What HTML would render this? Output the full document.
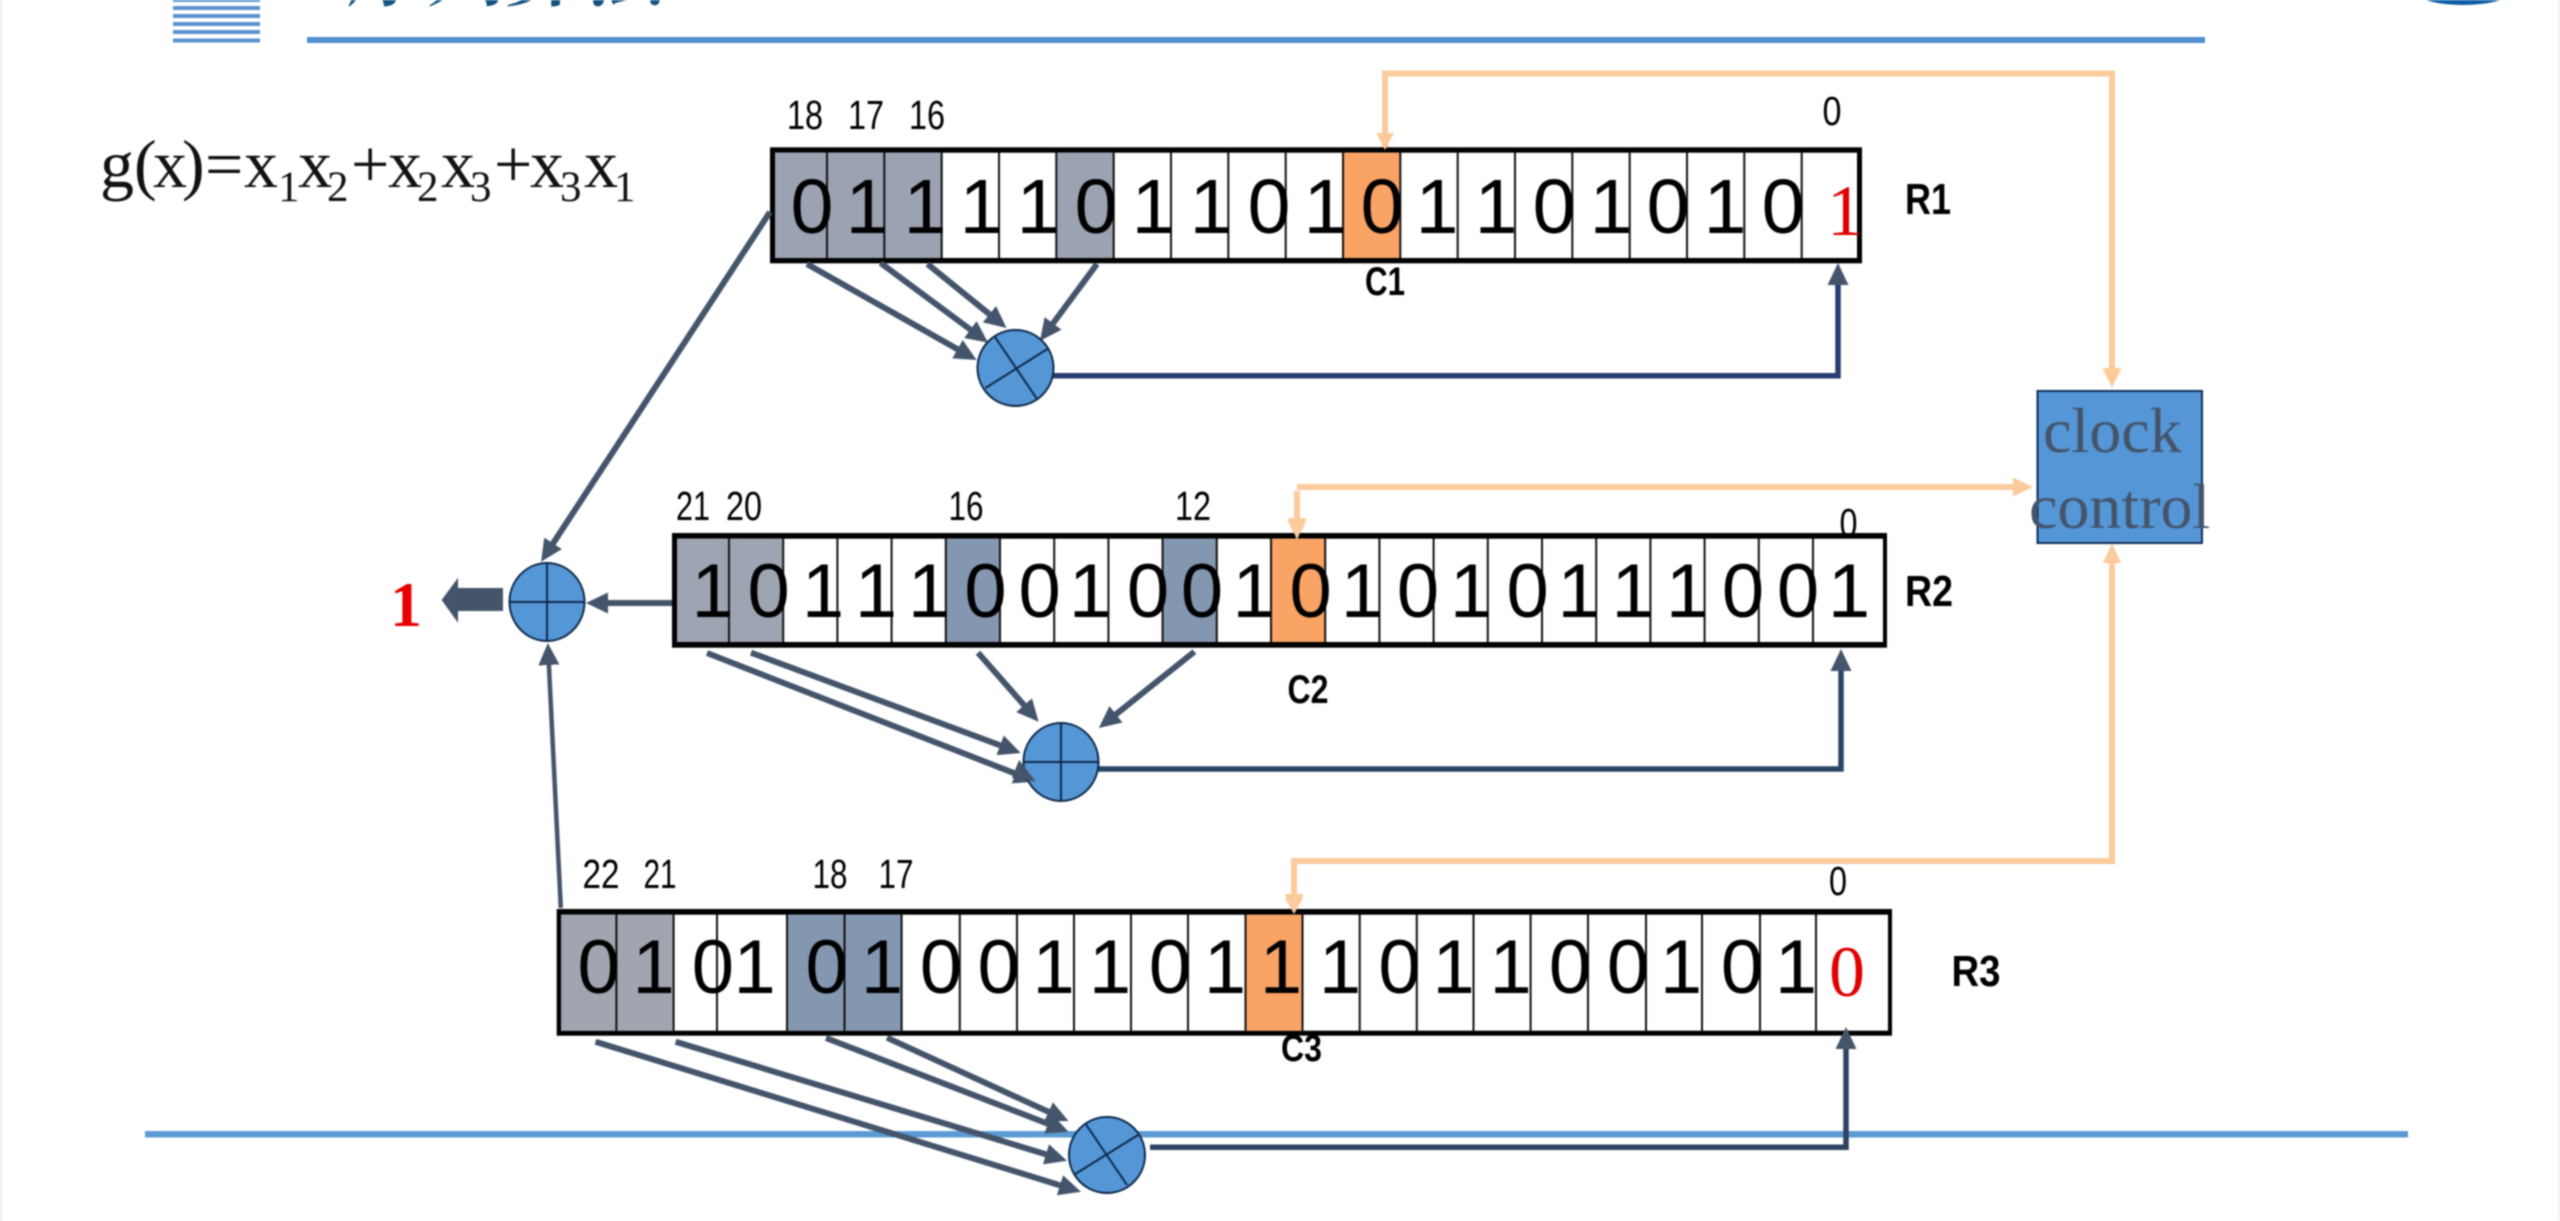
<!DOCTYPE html>
<html lang="en">
<head>
<meta charset="utf-8">
<title>Clock-controlled registers</title>
<style>
html,body{margin:0;padding:0;background:#fff;width:2560px;height:1221px;overflow:hidden}
svg{display:block;filter:blur(.7px)}
.bit{font-family:"Liberation Sans",sans-serif;fill:#000;text-anchor:middle}
.idx{font-family:"Liberation Sans",sans-serif;font-size:41px;fill:#000;text-anchor:middle}
.lab{font-family:"Liberation Sans",sans-serif;font-weight:700;fill:#000;text-anchor:middle}
.ser{font-family:"Liberation Serif",serif}
</style>
</head>
<body>
<svg width="2560" height="1221" viewBox="0 0 2560 1221" xmlns="http://www.w3.org/2000/svg">
<defs>
<marker id="h" markerUnits="userSpaceOnUse" markerWidth="26" markerHeight="24" refX="10" refY="11" orient="auto"><path d="M0,0.5 L22,11 L0,21.5 Z" fill="#44546A"/></marker>
<marker id="o" markerUnits="userSpaceOnUse" markerWidth="24" markerHeight="22" refX="8" refY="10" orient="auto"><path d="M0,0.5 L20,10 L0,19.5 Z" fill="#FBCB9C"/></marker>
</defs>
<rect x="0" y="0" width="2" height="1221" fill="#ececec"/>
<rect x="2558" y="0" width="2" height="1221" fill="#f0f0f0"/>

<!-- header -->
<g stroke="#5B93CF" stroke-width="4">
<path d="M173 0H260M173 8H260M173 16H260M173 24H260M173 32H260M173 40.5H260"/>
</g>
<rect x="307" y="37" width="1898" height="6" fill="#4E8FCF"/>
<text x="347" y="-1" font-family="'Noto Serif CJK SC',serif" font-weight="700" font-size="80" textLength="316" lengthAdjust="spacingAndGlyphs" fill="#14527F">序列算法</text>
<ellipse cx="2463" cy="-6" rx="44" ry="11" fill="#0E5CA8"/>

<!-- formula -->
<text class="ser" font-size="68" fill="#111" y="187" x="100 134 153 182 205">g(x)=</text>
<text class="ser" font-size="68" fill="#111" y="187" x="244">x</text>
<text class="ser" font-size="43" fill="#111" y="201" x="278">1</text>
<text class="ser" font-size="68" fill="#111" y="187" x="298">x</text>
<text class="ser" font-size="43" fill="#111" y="201" x="327">2</text>
<text class="ser" font-size="68" fill="#111" y="187" x="351">+</text>
<text class="ser" font-size="68" fill="#111" y="187" x="388">x</text>
<text class="ser" font-size="43" fill="#111" y="201" x="417">2</text>
<text class="ser" font-size="68" fill="#111" y="187" x="441">x</text>
<text class="ser" font-size="43" fill="#111" y="201" x="470">3</text>
<text class="ser" font-size="68" fill="#111" y="187" x="494">+</text>
<text class="ser" font-size="68" fill="#111" y="187" x="530">x</text>
<text class="ser" font-size="43" fill="#111" y="201" x="560">3</text>
<text class="ser" font-size="68" fill="#111" y="187" x="584">x</text>
<text class="ser" font-size="43" fill="#111" y="201" x="614">1</text>

<!-- bottom rule -->
<rect x="145" y="1131" width="2263" height="6.5" fill="#5B9BD5"/>

<!-- orange clock lines -->
<g fill="none" stroke="#FBCB9C" stroke-width="6">
<path d="M1385 162V73.5H2112V376" marker-end="url(#o)"/>
<path d="M1297 487H2021" marker-end="url(#o)"/>
<path d="M1297 491V528" marker-end="url(#o)"/>
<path d="M2112 550V861H1294V902" marker-end="url(#o)"/>
</g>

<!-- clock box -->
<rect x="2037.5" y="391" width="164.5" height="152" fill="#5596D6" stroke="#0F2E5C" stroke-width="2"/>
<text class="ser" x="2043" y="452" font-size="64" fill="#44546A">clock</text>
<text class="ser" x="2029" y="528" font-size="64" fill="#44546A">control</text>
<path d="M2103 563L2121 563L2112 543Z" fill="#FBCB9C"/>

<!-- R1 -->
<rect x="770" y="147.3" width="1092" height="116" fill="#000"/>
<rect x="775" y="152.7" width="1082" height="105.3" fill="#fff"/>
<g fill="#9BA3B2">
<rect x="775" y="152.7" width="52" height="105.3"/><rect x="827" y="152.7" width="57.3" height="105.3"/><rect x="884.3" y="152.7" width="57.4" height="105.3"/><rect x="1056.3" y="152.7" width="57.4" height="105.3"/>
</g>
<rect x="1343" y="152.7" width="57.3" height="105.3" fill="#F9A365"/>
<path stroke="#111" stroke-width="2" fill="none" d="M827 152V258M884.3 152V258M941.7 152V258M999 152V258M1056.3 152V258M1113.7 152V258M1171 152V258M1228.3 152V258M1285.7 152V258M1343 152V258M1400.3 152V258M1457.7 152V258M1515 152V258M1572.3 152V258M1629.7 152V258M1687 152V258M1744.3 152V258M1801.7 152V258"/>
<text class="bit" font-size="77" y="233" x="812 867 925 981 1038 1096 1153 1211 1269 1325 1382 1437 1496 1554 1611 1668 1725 1783">011110110101101010</text>
<text class="ser" font-size="72" fill="#E00000" x="1845" y="235" text-anchor="middle">1</text>
<text class="idx" x="805" y="129" textLength="36" lengthAdjust="spacingAndGlyphs">18</text>
<text class="idx" x="866" y="129" textLength="36" lengthAdjust="spacingAndGlyphs">17</text>
<text class="idx" x="927" y="129" textLength="36" lengthAdjust="spacingAndGlyphs">16</text>
<text class="idx" x="1832" y="125" textLength="19" lengthAdjust="spacingAndGlyphs">0</text>
<text class="lab" font-size="40" x="1385" y="295" textLength="40" lengthAdjust="spacingAndGlyphs">C1</text>
<text class="lab" font-size="44" x="1928" y="214" textLength="46" lengthAdjust="spacingAndGlyphs">R1</text>

<!-- R2 indices (0 sits behind register top) -->
<text class="idx" x="693" y="520" textLength="34" lengthAdjust="spacingAndGlyphs">21</text>
<text class="idx" x="744" y="520" textLength="36" lengthAdjust="spacingAndGlyphs">20</text>
<text class="idx" x="966" y="520" textLength="35" lengthAdjust="spacingAndGlyphs">16</text>
<text class="idx" x="1193" y="520" textLength="36" lengthAdjust="spacingAndGlyphs">12</text>
<text class="idx" x="1848.5" y="537" textLength="18" lengthAdjust="spacingAndGlyphs">0</text>

<!-- R2 -->
<rect x="672" y="533" width="1215" height="114.7" fill="#000"/>
<rect x="677" y="538.7" width="1206" height="103.3" fill="#fff"/>
<g fill="#9EA5B2"><rect x="677" y="538.7" width="52" height="103.3"/><rect x="729" y="538.7" width="54.2" height="103.3"/></g>
<g fill="#8497B0"><rect x="945.8" y="538.7" width="54.2" height="103.3"/><rect x="1162.6" y="538.7" width="54.2" height="103.3"/></g>
<rect x="1271" y="538.7" width="54.2" height="103.3" fill="#F9A365"/>
<path stroke="#111" stroke-width="2" fill="none" d="M729 538V642M783.2 538V642M837.4 538V642M891.6 538V642M945.8 538V642M1000 538V642M1054.2 538V642M1108.4 538V642M1162.6 538V642M1216.8 538V642M1271 538V642M1325.2 538V642M1379.4 538V642M1433.6 538V642M1487.8 538V642M1542 538V642M1596.2 538V642M1650.4 538V642M1704.6 538V642M1758.8 538V642M1813 538V642"/>
<text class="bit" font-size="76" y="617" x="712.6 768.7 823 876 929 985.5 1039.6 1090 1148 1202 1253.6 1310.7 1362 1418 1471 1527.6 1578.6 1632.7 1687 1743 1798 1849">1011100100101010111001</text>
<text class="lab" font-size="40" x="1308" y="703" textLength="41" lengthAdjust="spacingAndGlyphs">C2</text>
<text class="lab" font-size="44" x="1929" y="606" textLength="48" lengthAdjust="spacingAndGlyphs">R2</text>

<!-- R3 -->
<rect x="556.7" y="909" width="1335.3" height="126.7" fill="#000"/>
<rect x="561" y="914.7" width="1327" height="116" fill="#fff"/>
<g fill="#A0A5B0"><rect x="561" y="914.7" width="55.4" height="116"/><rect x="616.4" y="914.7" width="57.2" height="116"/></g>
<g fill="#8497B0"><rect x="787" y="914.7" width="57.5" height="116"/><rect x="844.5" y="914.7" width="57.1" height="116"/></g>
<rect x="1245.5" y="914.7" width="57" height="116" fill="#F9A365"/>
<path stroke="#111" stroke-width="2" fill="none" d="M616.4 914V1032M673.6 914V1032M717 914V1032M787 914V1032M844.5 914V1032M901.6 914V1032M959.8 914V1032M1017 914V1032M1074 914V1032M1131 914V1032M1188 914V1032M1245.5 914V1032M1302.5 914V1032M1359.7 914V1032M1416.8 914V1032M1473.5 914V1032M1530.6 914V1032M1588 914V1032M1646 914V1032M1702 914V1032M1760 914V1032M1816 914V1032"/>
<text class="bit" font-size="76" y="993" x="598.6 653.7 712.9 754.7 826.6 882 941 998.6 1053.7 1110 1170 1225 1281 1340 1399.5 1453.6 1510.7 1570 1628 1681 1742 1796">0101010011011101100101</text>
<text class="ser" font-size="72" fill="#E00000" x="1847" y="996" text-anchor="middle">0</text>
<text class="idx" x="601" y="888" textLength="37" lengthAdjust="spacingAndGlyphs">22</text>
<text class="idx" x="660" y="888" textLength="33" lengthAdjust="spacingAndGlyphs">21</text>
<text class="idx" x="830" y="888" textLength="35" lengthAdjust="spacingAndGlyphs">18</text>
<text class="idx" x="896" y="888" textLength="35" lengthAdjust="spacingAndGlyphs">17</text>
<text class="idx" x="1838" y="895" textLength="18" lengthAdjust="spacingAndGlyphs">0</text>
<text class="lab" font-size="38" x="1301.5" y="1061" textLength="41" lengthAdjust="spacingAndGlyphs">C3</text>
<text class="lab" font-size="44" x="1976" y="986" textLength="49" lengthAdjust="spacingAndGlyphs">R3</text>

<!-- orange heads over registers -->
<path d="M1376 133L1394 133L1385 150Z" fill="#FBCB9C"/>
<path d="M1288 518L1306 518L1297 540Z" fill="#FBCB9C"/>
<path d="M1285 898L1303 898L1294 914Z" fill="#FBCB9C"/>

<!-- dark arrows -->
<g fill="none" stroke="#44546A" stroke-width="6">
<path d="M807 264L966.2 354.1" marker-end="url(#h)"/>
<path d="M880.6 263L978.4 335.5" marker-end="url(#h)"/>
<path d="M927.5 264L997.2 320.5" marker-end="url(#h)"/>
<path d="M1097 264L1047.1 331.4" marker-end="url(#h)"/>
<path d="M770 212L547.6 551.7" marker-end="url(#h)"/>
<path d="M560.8 908L548.4 655" stroke-width="4.5" marker-end="url(#h)"/>
<path d="M672 603L598 603" marker-end="url(#h)"/>
<path d="M707 653L1024.8 777.3" marker-end="url(#h)"/>
<path d="M751 652.7L1009.5 748.8" marker-end="url(#h)"/>
<path d="M978 652.7L1030.7 712.7" marker-end="url(#h)"/>
<path d="M1194.4 651.7L1108.2 720.5" marker-end="url(#h)"/>
<path d="M595.5 1041.7L1069.5 1188.2" marker-end="url(#h)"/>
<path d="M675.6 1041.7L1055.5 1157.2" marker-end="url(#h)"/>
<path d="M826 1038L1057.3 1127.4" marker-end="url(#h)"/>
<path d="M887 1037.7L1057.6 1116" marker-end="url(#h)"/>
</g>

<!-- feedback lines -->
<g fill="none">
<path d="M1053 375.7H1838V275" stroke="#283C70" stroke-width="5.5" marker-end="url(#h)"/>
<path d="M1098 769H1841V661" stroke="#2A4468" stroke-width="5.5" marker-end="url(#h)"/>
<path d="M1150 1147.3H1846V1039" stroke="#2F4262" stroke-width="5.5" marker-end="url(#h)"/>
</g>

<!-- XOR circles -->
<g fill="#5596D6" stroke="#0E2A4A" stroke-width="2">
<circle cx="1015.5" cy="368" r="38"/>
<path d="M995 337L1037 399M985.5 388L1049 348" fill="none"/>
<ellipse cx="547" cy="602" rx="37.5" ry="39"/>
<path d="M547 563V641M509.5 602H584.5" fill="none"/>
<ellipse cx="1061" cy="762" rx="37.5" ry="39"/>
<path d="M1061 723V801M1023 762H1098" fill="none"/>
<ellipse cx="1107" cy="1155" rx="38" ry="38"/>
<path d="M1085 1123L1127 1185M1073.6 1175L1138 1135" fill="none"/>
</g>
<!-- tip of R2 arrow overlapping circle -->
<path d="M1019 760L1036 781.7L1012 778Z" fill="#44546A"/>

<!-- output -->
<path d="M503 588V611H458V622.7L441.6 600L458 577.7V588Z" fill="#44546A"/>
<text x="406" y="626" text-anchor="middle" font-family="'Liberation Serif',serif" font-weight="700" font-size="64" fill="#E80000">1</text>
</svg>
</body>
</html>
